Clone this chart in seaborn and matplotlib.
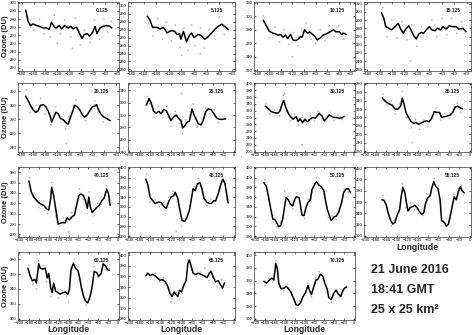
import matplotlib
matplotlib.use("Agg")
import matplotlib.pyplot as plt
import seaborn as sns

sns.set_style("ticks")
plt.rcParams['font.family'] = ['Liberation Sans', 'DejaVu Sans']

# ---------------- data ----------------
latitudes = ["0.125", "5.125", "10.125", "15.125", "20.125", "25.125", "30.125", "35.125",
             "40.125", "45.125", "50.125", "55.125", "60.125", "65.125", "70.125"]

lon_00 = [-173,-169,-165,-161,-155,-150,-144,-138,-134,-130,-125,-122,-117,-113,-108,-102,-98,-94,-88,-84,-79,-75,-70,-66,-61,-57,-54,-49,-44,-38,-32,-29]
oz_00 = [291,277,272,274,272,271,269,269,267,276,270,269,272,268,272,269,271,268,270,264,256,261,262,259,264,271,262,269,271,272,271,269]
slon_00 = [-170,-160,-150,-142,-132,-125,-115,-108,-98,-90,-82,-75,-66,-58,-50,-42,-36,-30,-120,-95]
soz_00 = [283,266,280,262,258,285,262,279,258,281,248,266,251,279,255,280,264,277,250,244]

lon_05 = [-154,-150,-146,-139,-134,-129,-126,-123,-119,-115,-111,-107,-103,-101,-97,-92,-88,-84,-80,-74,-69,-63,-58,-52,-44,-36,-31,-25]
oz_05 = [287,282,273,273,271,273,270,266,268,269,268,264,265,258,268,255,262,266,260,264,263,258,261,266,273,277,274,270]
slon_05 = [-152,-145,-138,-130,-124,-116,-110,-102,-96,-90,-84,-78,-70,-64,-56,-48,-40,-32,-100,-70]
soz_05 = [278,262,284,258,280,256,276,248,272,244,276,250,272,247,270,262,286,264,238,240]

lon_10 = [-170,-165,-160,-154,-149,-145,-140,-136,-132,-128,-123,-119,-114,-110,-106,-103,-99,-94,-90,-85,-81,-77,-72,-67,-61,-55,-49,-45,-39,-35,-32,-27]
oz_10 = [294,286,278,275,274,272,273,269,272,267,273,265,264,266,270,269,280,275,277,273,270,265,268,272,274,277,280,277,277,273,275,273]
slon_10 = [-170,-160,-150,-142,-135,-126,-118,-110,-104,-96,-88,-80,-72,-64,-56,-48,-40,-32,-120]
soz_10 = [300,268,284,262,280,258,276,256,282,290,266,260,280,264,286,270,286,266,240]

lon_15 = [-157,-153,-150,-145,-141,-135,-130,-126,-122,-118,-113,-109,-105,-101,-97,-93,-89,-84,-80,-76,-71,-67,-62,-58,-53,-48,-43,-37,-32,-26,-21]
oz_15 = [299,292,282,280,278,282,286,279,274,279,283,277,271,267,273,275,274,279,282,278,277,280,278,282,279,283,282,282,279,280,276]
slon_15 = [-155,-148,-140,-132,-124,-116,-108,-100,-92,-84,-76,-68,-60,-52,-44,-36,-28,-22,-110]
soz_15 = [305,270,290,268,288,266,284,258,282,270,290,270,292,272,292,274,288,270,240]

lon_20 = [-173,-169,-165,-160,-156,-152,-148,-143,-139,-135,-131,-129,-125,-122,-118,-114,-109,-105,-101,-98,-94,-90,-86,-81,-77,-73,-69,-64,-60,-56,-53,-50,-46,-42,-36,-30]
oz_20 = [313,307,300,293,290,292,300,301,298,292,283,276,284,290,288,281,279,275,273,281,290,300,298,293,286,283,286,293,298,299,301,294,288,284,281,278]
slon_20 = [-172,-165,-155,-148,-140,-130,-122,-114,-106,-100,-92,-88,-80,-72,-64,-56,-50,-42,-34,-104]
soz_20 = [322,290,300,310,288,272,298,276,266,284,300,308,284,278,300,306,288,276,286,245]

lon_25 = [-167,-162,-158,-153,-148,-143,-139,-134,-129,-124,-120,-115,-110,-106,-101,-98,-94,-90,-85,-80,-76,-73,-68,-63,-59,-54,-49,-44,-38,-33,-27,-21,-16]
oz_25 = [316,327,320,306,303,306,302,309,307,298,291,297,300,295,291,279,282,288,290,310,300,295,286,284,290,305,310,309,302,295,293,293,294]
slon_25 = [-166,-160,-152,-144,-136,-128,-120,-112,-104,-98,-92,-84,-78,-70,-62,-54,-46,-38,-30,-22,-100]
soz_25 = [330,318,296,314,296,314,282,306,286,270,292,300,318,280,294,312,302,308,288,298,335]

lon_30 = [-179,-174,-168,-161,-154,-150,-145,-142,-138,-132,-128,-123,-117,-113,-109,-104,-99,-94,-89,-84,-79,-74,-70,-65,-60,-55,-50,-45,-40,-35,-30,-25,-20]
oz_30 = [333,327,318,314,313,318,340,350,330,310,302,295,303,288,296,285,295,288,295,300,298,305,312,305,290,298,308,303,300,300,298,299,303]
slon_30 = [-178,-170,-160,-150,-143,-136,-128,-120,-112,-104,-96,-88,-80,-72,-64,-56,-48,-40,-32,-24,-105,-140]
soz_30 = [340,310,322,305,365,318,290,310,278,300,280,305,290,318,296,288,315,292,308,294,220,370]

lon_35 = [-167,-161,-155,-148,-143,-137,-132,-129,-126,-122,-117,-112,-107,-103,-98,-93,-88,-83,-78,-73,-68,-63,-58,-54,-49,-44,-38,-33,-28,-23,-18,-14]
oz_35 = [346,338,333,329,320,320,328,346,333,312,300,290,286,288,284,287,290,292,290,298,314,312,312,300,302,303,306,312,325,327,322,321]
slon_35 = [-166,-158,-150,-142,-134,-129,-120,-112,-104,-96,-88,-80,-72,-64,-56,-48,-40,-32,-24,-18,-110]
soz_35 = [356,330,340,308,332,362,300,276,296,272,294,278,304,322,294,310,298,320,334,312,240]

lon_40 = [-180,-175,-170,-165,-160,-155,-150,-145,-140,-136,-134,-130,-125,-121,-116,-111,-107,-103,-98,-93,-88,-83,-79,-75,-70,-66,-62,-59,-56,-52,-48,-42,-38,-32,-28,-23,-19,-16]
oz_40 = [363,341,332,326,321,318,316,310,307,329,351,335,304,280,282,283,282,292,288,294,297,319,335,338,335,326,310,332,313,302,307,313,316,326,330,347,338,316]
slon_40 = [-178,-170,-160,-150,-142,-134,-126,-118,-110,-102,-94,-86,-78,-70,-62,-58,-50,-42,-34,-24,-18,-100]
soz_40 = [370,340,312,324,300,360,296,276,292,284,302,310,348,328,300,342,296,320,318,354,326,265]

lon_45 = [-168,-164,-160,-155,-150,-144,-139,-134,-129,-124,-120,-115,-112,-107,-103,-99,-94,-90,-85,-81,-78,-74,-70,-65,-61,-57,-52,-47,-43,-38,-35,-30,-25,-21,-17,-13,-11]
oz_45 = [377,365,340,333,327,330,329,321,317,332,340,343,350,337,313,292,290,297,313,337,357,353,367,370,357,337,330,327,327,333,332,347,367,377,367,340,328]
slon_45 = [-166,-160,-150,-142,-134,-124,-116,-108,-100,-92,-84,-76,-68,-60,-52,-44,-36,-28,-22,-14,-110]
soz_45 = [388,330,335,320,328,340,352,330,280,298,322,362,378,350,322,336,326,356,382,335,270]

lon_50 = [-182,-177,-173,-168,-164,-160,-155,-152,-148,-144,-140,-137,-133,-128,-124,-119,-116,-111,-108,-105,-101,-97,-93,-88,-85,-80,-76,-71,-66,-61,-58,-54,-50,-46,-41,-36,-31,-25,-21,-16,-11,-7]
oz_50 = [390,382,362,335,315,314,305,299,302,315,342,359,355,345,342,357,361,359,342,323,322,339,349,355,375,385,392,385,381,374,355,335,323,312,319,321,329,349,369,377,377,369]
slon_50 = [-180,-172,-164,-156,-148,-140,-132,-124,-116,-108,-100,-92,-84,-76,-68,-60,-52,-44,-36,-28,-20,-12,-140]
soz_50 = [396,355,322,300,310,350,362,336,368,335,316,356,370,400,378,366,318,322,314,340,376,370,372]

lon_55 = [-168,-164,-160,-156,-151,-147,-143,-139,-134,-131,-128,-124,-121,-118,-114,-109,-105,-101,-97,-92,-88,-85,-81,-76,-73,-69,-65,-61,-57,-54,-49,-45,-41,-37,-33,-30,-26,-22,-18,-15,-11]
oz_55 = [364,363,356,341,327,321,324,336,347,370,386,376,358,344,350,352,354,350,344,338,341,356,367,371,384,396,387,384,364,327,324,317,321,338,356,369,364,379,387,380,376]
slon_55 = [-166,-158,-150,-144,-136,-129,-122,-114,-106,-98,-90,-82,-74,-68,-60,-54,-46,-38,-30,-22,-16,-12]
soz_55 = [372,350,318,328,342,392,350,358,346,340,336,374,376,402,378,318,322,330,374,384,390,372]

lon_60 = [-182,-177,-173,-168,-165,-160,-157,-152,-147,-143,-140,-136,-133,-130,-126,-121,-117,-111,-106,-101,-98,-95,-90,-86,-81,-78,-74,-70,-66,-61,-56,-52,-48,-43,-39,-34,-30,-25,-21,-17]
oz_60 = [368,357,351,353,348,374,368,367,368,355,361,342,335,348,337,335,333,335,336,333,340,366,375,368,365,357,342,331,324,321,331,344,364,362,357,361,374,371,366,365]
slon_60 = [-180,-172,-165,-160,-152,-144,-136,-128,-120,-112,-104,-96,-88,-80,-72,-64,-56,-48,-40,-32,-24,-18,-100]
soz_60 = [372,346,340,378,372,350,330,342,328,338,330,360,380,370,336,318,326,370,356,378,366,368,322]

lon_65 = [-168,-164,-160,-155,-150,-145,-141,-136,-131,-126,-122,-118,-114,-110,-107,-104,-100,-96,-91,-88,-85,-82,-78,-73,-68,-63,-59,-55,-51,-47,-44,-40,-35,-30,-26,-22,-18]
oz_65 = [361,366,362,364,361,356,353,354,350,341,328,322,331,325,322,334,331,342,353,384,391,381,366,364,366,364,362,360,358,366,370,360,350,352,345,338,348]
slon_65 = [-166,-158,-150,-142,-134,-126,-118,-110,-104,-96,-88,-80,-72,-64,-56,-48,-40,-32,-24,-18,-120]
soz_65 = [366,358,366,350,358,338,318,330,316,346,390,372,360,368,376,352,358,340,354,346,312]

lon_70 = [-182,-177,-172,-166,-162,-158,-155,-152,-147,-142,-137,-132,-127,-121,-117,-113,-108,-103,-98,-93,-89,-86,-81,-77,-73,-68,-63,-59,-54,-51,-46,-41,-36,-32,-27,-23,-19,-15]
oz_70 = [359,356,360,364,361,387,379,356,347,348,351,347,341,330,322,321,325,335,341,352,343,338,351,361,362,370,367,356,346,333,330,340,345,339,335,343,348,350]
slon_70 = [-180,-172,-164,-158,-150,-142,-134,-126,-118,-110,-102,-94,-86,-78,-70,-62,-54,-46,-38,-30,-22,-16]
soz_70 = [352,364,358,392,350,344,354,338,316,328,338,356,334,364,374,362,342,326,346,334,346,352]

xticks_a = [-180, -160, -140, -120, -100, -80, -60, -40, -20]
xticks_b = [-200, -180, -160, -140, -120, -100, -80, -60, -40, -20, 0]

# table built from the arrays: (lon, oz, scatter lon, scatter oz, xlim, ylim, yticks, xticks)
panels = [
    (lon_00, oz_00, slon_00, soz_00, (-186, -17), (216, 301), list(range(220, 301, 10)), xticks_a),
    (lon_05, oz_05, slon_05, soz_05, (-185, -15), (218, 305), list(range(220, 301, 10)), xticks_a),
    (lon_10, oz_10, slon_10, soz_10, (-186, -12), (219, 321), list(range(220, 321, 20)), xticks_a),
    (lon_15, oz_15, slon_15, soz_15, (-185, -13), (228, 312), list(range(230, 311, 10)), xticks_a),
    (lon_20, oz_20, slon_20, soz_20, (-186, -15), (233, 332), list(range(240, 321, 20)), xticks_a),
    (lon_25, oz_25, slon_25, soz_25, (-202, 2), (240, 352), list(range(240, 341, 20)), xticks_b),
    (lon_30, oz_30, slon_30, soz_30, (-202, 2), (199, 401), list(range(200, 401, 20)), xticks_b),
    (lon_35, oz_35, slon_35, soz_35, (-202, 2), (218, 382), list(range(220, 381, 20)), xticks_b),
    (lon_40, oz_40, slon_40, soz_40, (-202, 2), (255, 390), list(range(260, 381, 20)), xticks_b),
    (lon_45, oz_45, slon_45, soz_45, (-202, 2), (258, 402), list(range(260, 401, 20)), xticks_b),
    (lon_50, oz_50, slon_50, soz_50, (-202, 2), (278, 422), list(range(280, 421, 20)), xticks_b),
    (lon_55, oz_55, slon_55, soz_55, (-202, 2), (298, 422), list(range(300, 421, 20)), xticks_b),
    (lon_60, oz_60, slon_60, soz_60, (-202, 2), (298, 390), list(range(300, 381, 20)), xticks_b),
    (lon_65, oz_65, slon_65, soz_65, (-202, 2), (278, 406), list(range(280, 401, 20)), xticks_b),
    (lon_70, oz_70, slon_70, soz_70, (-202, 2), (298, 405), list(range(300, 401, 20)), xticks_b),
]

# ---------------- layout ----------------
W, H = 474, 335
fig = plt.figure(figsize=(W / 100, H / 100), dpi=100)
cols = [(18, 119), (128, 235), (254, 355), (364, 471)]
rows = [(2, 71), (83, 152), (167, 237), (252, 320)]

for i, (lon, oz, slon, soz, xl, yl, yt, xt) in enumerate(panels):
    r, c = divmod(i, 4)
    (x0, x1), (y0, y1) = cols[c], rows[r]
    ax = fig.add_axes([x0 / W, 1 - y1 / H, (x1 - x0) / W, (y1 - y0) / H])
    sns.scatterplot(x=slon, y=soz, ax=ax, s=1.5, color="#b5b5b5", edgecolor="none", linewidth=0)
    sns.lineplot(x=lon, y=oz, ax=ax, color="black", lw=1.1, sort=False, estimator=None)
    ax.set_xlim(*xl)
    ax.set_ylim(*yl)
    ax.set_xticks(xt)
    ax.set_yticks(yt)
    ax.set_xlabel("")
    ax.set_ylabel("")
    ax.tick_params(direction="in", length=1.5, width=0.4, labelsize=3, pad=1,
                   top=True, right=True, colors="black")
    for s in ax.spines.values():
        s.set_linewidth(0.5)
        s.set_color("#333333")
    ax.text(0.83, 0.88, latitudes[i], transform=ax.transAxes, ha="center", va="center",
            fontsize=3.6, fontweight="bold")
    if c == 0:
        fig.text(5.5 / W, 1 - (y0 + y1) / 2 / H, "Ozone (DU)", rotation=90,
                 ha="center", va="center", fontsize=5.5, fontweight="bold")
    if r == 3 or (r == 2 and c == 3):
        fig.text((x0 + x1) / 2 / W, 1 - (y1 + 10) / H, "Longitude", ha="center", va="center",
                 fontsize=6.2, fontweight="bold")

fig.text(371 / W, 1 - 273 / H, "21 June 2016", fontsize=9, fontweight="bold", va="baseline")
fig.text(371 / W, 1 - 293 / H, "18:41 GMT", fontsize=9, fontweight="bold", va="baseline")
fig.text(371 / W, 1 - 313 / H, "25 x 25 km\u00b2", fontsize=9, fontweight="bold", va="baseline")

fig.savefig("out.png", dpi=100)
